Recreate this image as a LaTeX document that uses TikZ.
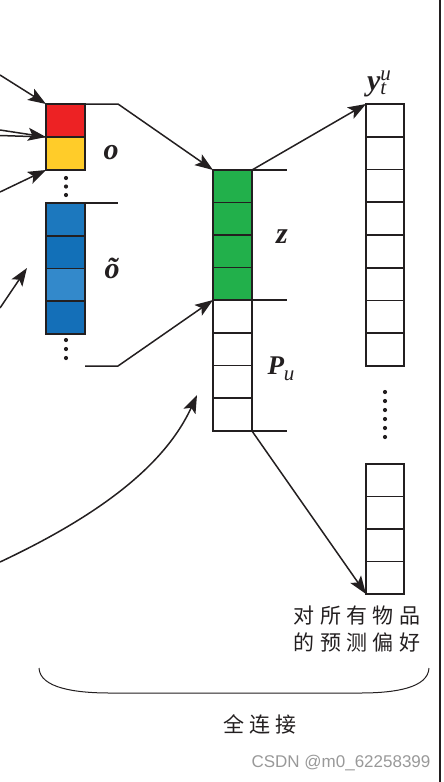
\documentclass[tikz,border=0pt]{standalone}
\usepackage{fontspec}
\newfontfamily\cjk{Noto Sans CJK SC}
\newfontfamily\wmfont{Liberation Sans}
\newfontfamily\tms{Liberation Serif}
\usetikzlibrary{arrows.meta}
\definecolor{cred}{HTML}{ED2224}
\definecolor{cyel}{HTML}{FFCC29}
\definecolor{cgreen}{HTML}{22B04B}
\definecolor{cba}{HTML}{1C78BE}
\definecolor{cbb}{HTML}{1270B8}
\definecolor{cbc}{HTML}{3389CB}
\definecolor{cbd}{HTML}{146FB8}
\definecolor{ink}{HTML}{231F20}
\newcommand\bisym[1]{{\tms\bfseries\itshape #1}}
\newcommand\smit[1]{{\tms\itshape\fontsize{21}{22}\selectfont #1}}
\begin{document}
\begin{tikzpicture}[x=1pt,y=-1pt,
  cell/.style={draw=ink,line width=1.6pt,minimum width=39pt,minimum height=32.75pt,inner sep=0pt,outer sep=0pt},
  conn/.style={line width=1.5pt,draw=ink},
  arr/.style={conn,-{Stealth[length=18pt,width=13pt,inset=4pt]}},
  dotm/.style={circle,fill=ink,inner sep=0pt,minimum size=4.2pt},
  lbl/.style={font=\fontsize{30}{32}\selectfont,inner sep=0pt,text=ink},
  cjkl/.style={font=\cjk\fontsize{21}{27}\selectfont,inner sep=0pt,text=ink,align=center}]
\useasboundingbox (0,0) rectangle (444,782);
% o column
\node[cell,fill=cred,minimum height=33pt] (r) at (65.5,120.5) {};
\node[cell,fill=cyel,minimum height=33pt] (yl) at (65.5,153.5) {};
\foreach \i/\c in {1/cba,2/cbb,3/cbc,4/cbd}
  \node[cell,fill=\c] (b\i) at (65.5,{203+32.75*(\i-0.5)}) {};
% z / P_u column
\foreach \i in {1,...,4}
  \node[cell,fill=cgreen,minimum height=32.5pt] (g\i) at (232.5,{170+32.5*(\i-0.5)}) {};
\foreach \i in {1,...,4}
  \node[cell,fill=white] (w\i) at (232.5,{300+32.75*(\i-0.5)}) {};
% y column
\foreach \i in {1,...,8}
  \node[cell,minimum width=38pt] (yc\i) at (385,{104+32.75*(\i-0.5)}) {};
\foreach \i in {1,...,4}
  \node[cell,minimum width=38pt,minimum height=32.5pt] (yb\i) at (385,{464+32.5*(\i-0.5)}) {};
% dots
\foreach \yy [count=\k] in {178,186.5,195}
  \node[dotm] (da\k) at (66,\yy) {};
\foreach \yy [count=\k] in {340,349,358}
  \node[dotm] (db\k) at (66,\yy) {};
\foreach \yy [count=\k] in {392,401,410,419,428,437}
  \node[dotm] (dc\k) at (385,\yy) {};
% labels
\node[lbl] (lo) at (111,153) {\bisym{o}};
\node[lbl] (lot) at (112,268) {\bisym{õ}};
\node[lbl] (lz) at (282,237) {\bisym{z}};
\node[lbl,font=\fontsize{27}{29}\selectfont] (lp) at (281,369) {\bisym{P}\raisebox{-6pt}{\smit{u}}};
\node[lbl] (ly) at (382,84) {\bisym{y}\rlap{\raisebox{10pt}{\smit{u}}}\raisebox{-4pt}{\smit{t}}\hphantom{\smit{u}}};
% connectors
\coordinate (k1) at (118,104);
\draw[arr] (r.north east) -- (k1) -- (g1.north west);
\coordinate (k2) at (118,203);
\draw[conn] (b1.north east) -- (k2);
\coordinate (k3s) at (85,366);
\coordinate (k3) at (118,366);
\draw[arr] (k3s) -- (k3) -- (w1.north west);
\draw[arr] (g1.north east) -- (yc1.north west);
\coordinate (t1) at (287,170);
\coordinate (t2) at (287,300);
\coordinate (t3) at (287,431);
\draw[conn] (g1.north east) -- (t1);
\draw[conn] (g4.south east) -- (t2);
\draw[conn] (w4.south east) -- (t3);
\draw[arr] (w4.south east) -- (yb4.south west);
% incoming from left
\coordinate (l1) at (0,75);
\draw[arr] (l1) -- (r.north west);
\coordinate (l2) at (0,130);
\coordinate (l3) at (0,135.5);
\draw[conn] (l3) -- (r.south west);
\draw[arr] (l2) -- (r.south west);
\coordinate (l4) at (0,192);
\draw[arr] (l4) -- (yl.south west);
\coordinate (l5) at (0,308);
\coordinate (l5e) at (27,268);
\draw[arr] (l5) -- (l5e);
\coordinate (l6) at (0,562);
\coordinate (l6e) at (197,395);
\draw[arr] (l6) .. controls (100,515) and (165,465) .. (l6e);
% right border
\coordinate (rb1) at (440,0);
\coordinate (rb2) at (440,782);
\draw[line width=1.4pt,draw=ink] (rb1) -- (rb2);
% brace
\coordinate (bl) at (39,668);
\coordinate (br) at (429,668);
\draw[line width=1pt,draw=ink] (bl) .. controls (40,688) and (75,693) .. (110,693) -- (360,693) .. controls (395,693) and (428,688) .. (br);
% texts
\node[cjkl] (pref) at (357,629) {\addfontfeature{LetterSpace=26}对所有物品\\\addfontfeature{LetterSpace=26}的预测偏好};
\node[cjkl] (fc) at (260,724) {\addfontfeature{LetterSpace=26}全连接};
\node[font=\wmfont\fontsize{17}{20}\selectfont,text=black!40,inner sep=0pt] (wm) at (341,763) {CSDN @m0\_62258399};
\end{tikzpicture}
\end{document}
